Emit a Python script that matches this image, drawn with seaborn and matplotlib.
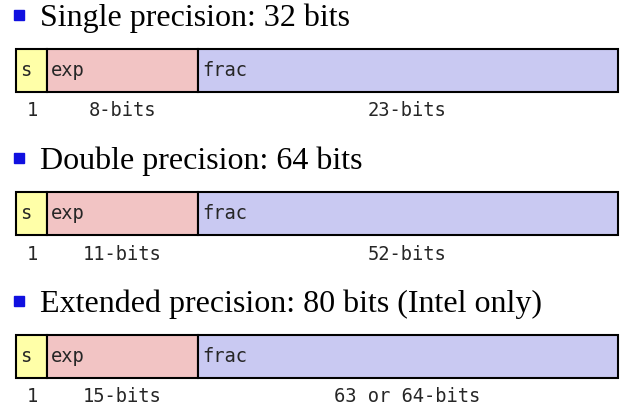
import matplotlib
matplotlib.use("Agg")
import matplotlib.pyplot as plt
import seaborn as sns

titles = ["Single precision: 32 bits", "Double precision: 64 bits",
          "Extended precision: 80 bits (Intel only)"]
fields = ["s", "exp", "frac"]
field_widths = [31, 151, 420]
field_colors = ["#ffffa8", "#f2c4c4", "#c9c9f2"]
bit_labels = [["1", "8-bits", "23-bits"], ["1", "11-bits", "52-bits"],
              ["1", "15-bits", "63 or 64-bits"]]
label_x = [32, 122, 407]

sns.set_theme(style="white")
fig = plt.figure(figsize=(6.37, 4.18), dpi=100)
ax = fig.add_axes([0, 0, 1, 1])
ax.set_xlim(0, 637)
ax.set_ylim(418, 0)
ax.axis("off")

row_top = [49, 192, 335]
bar_h = 43
for r, top in enumerate(row_top):
    ty = top - 31
    ax.plot([19], [ty - 3], marker="s", ms=6.5, color="#1010e0")
    ax.text(40, ty, titles[r], family="Liberation Serif", fontsize=23,
            va="center", ha="left", color="black")
    left = 16
    for f, w, c in zip(fields, field_widths, field_colors):
        ax.barh(top + bar_h / 2, w, height=bar_h, left=left, color=c,
                edgecolor="black", linewidth=1.5)
        ax.text(left + 4, top + bar_h / 2, f, family="DejaVu Sans Mono",
                fontsize=13.5, va="center", ha="left")
        left += w
    for lx, lab in zip(label_x, bit_labels[r]):
        ax.text(lx, top + 62, lab, family="DejaVu Sans Mono", fontsize=13.5,
                va="center", ha="center")

fig.savefig("out.png", dpi=100)
